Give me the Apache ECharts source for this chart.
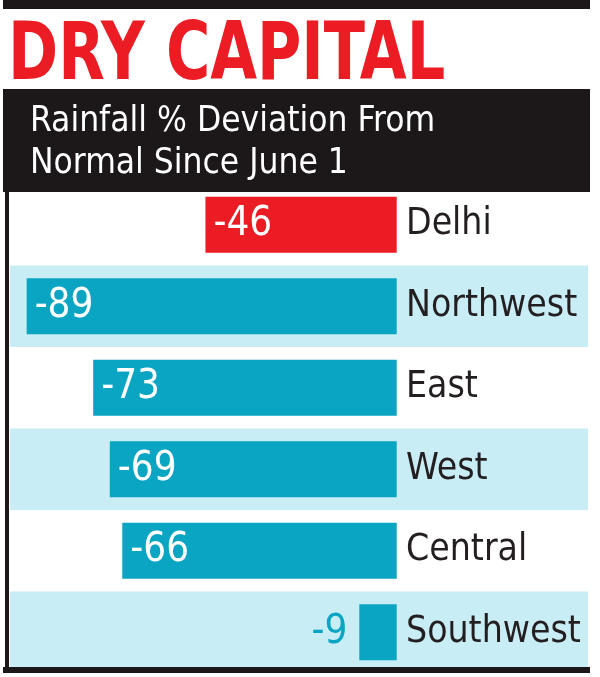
<!DOCTYPE html>
<html>
<head>
<meta charset="utf-8">
<script src="https://cdn.jsdelivr.net/npm/echarts@6/dist/echarts.min.js"></script>
<style>
  html, body { margin: 0; padding: 0; background: #fff; }
  #dryCapitalChart { width: 600px; height: 677px; }
</style>
</head>
<body>
<div id="dryCapitalChart"></div>
<script>
  const regions = ['Delhi', 'Northwest', 'East', 'West', 'Central', 'Southwest'];
  const deviation = [-46, -89, -73, -69, -66, -9];
  const titleText = 'DRY CAPITAL';
  const subtitleLines = ['Rainfall % Deviation From', 'Normal Since June 1'];

  const narrow = '"Liberation Sans Narrow", "DejaVu Sans Condensed", sans-serif';
  const colors = { red: '#ec1c24', teal: '#0aa5c3', band: '#c9edf5', ink: '#1c1719' };

  function initChart() {
    const dom = document.getElementById('dryCapitalChart');
    const myChart = echarts.init(dom);

    const barData = deviation.map((v, i) => {
      const item = { value: v };
      if (i === 0) item.itemStyle = { color: colors.red };
      // short bars get their number outside, in the bar colour
      if (v > -20) {
        item.label = { position: 'left', color: colors.teal, distance: 12 };
      }
      return item;
    });

    const options = {
      animation: false,
      grid: { left: 10, right: 12, top: 184, bottom: 4 },
      xAxis: {
        type: 'value',
        min: -93,
        max: 46,
        axisLine: { show: false },
        axisTick: { show: false },
        axisLabel: { show: false },
        splitLine: { show: false },
      },
      yAxis: {
        type: 'category',
        inverse: true,
        data: regions,
        // pull the axis in to the bars' zero so the names sit just right of it
        offset: -387,
        axisLine: { show: false },
        axisTick: { show: false },
        axisLabel: {
          inside: true,
          margin: 9,
          color: '#231f20',
          fontSize: 37,
          fontFamily: narrow,
        },
        splitLine: { show: false },
        splitArea: {
          show: true,
          interval: 0,
          areaStyle: { color: ['rgba(0,0,0,0)', colors.band] },
        },
      },
      series: [
        {
          type: 'bar',
          data: barData,
          barWidth: 56,
          itemStyle: { color: colors.teal },
          label: {
            show: true,
            position: 'insideLeft',
            distance: 8,
            color: '#fff',
            fontSize: 40,
            fontFamily: narrow,
          },
        },
      ],
      graphic: [
        { type: 'rect', z: 100, shape: { x: 3, y: 0, width: 587, height: 9 }, style: { fill: colors.ink } },
        {
          type: 'text',
          z: 100,
          x: 8,
          y: 18,
          scaleX: 0.84,
          style: {
            text: titleText,
            fill: colors.red,
            fontSize: 80,
            fontWeight: 'bold',
            fontFamily: narrow,
          },
        },
        { type: 'rect', z: 100, shape: { x: 3, y: 89, width: 587, height: 103 }, style: { fill: colors.ink } },
        {
          type: 'text',
          z: 101,
          x: 30,
          y: 101,
          style: {
            text: subtitleLines.join('\n'),
            fill: '#fff',
            fontSize: 35,
            lineHeight: 42,
            fontFamily: narrow,
          },
        },
        // frame: left rule and heavy bottom rule, drawn over the row bands
        { type: 'rect', z: 100, shape: { x: 5, y: 192, width: 4, height: 480 }, style: { fill: colors.ink } },
        { type: 'rect', z: 100, shape: { x: 3, y: 667, width: 587, height: 6 }, style: { fill: colors.ink } },
      ],
    };
    myChart.setOption(options);
  }

  initChart();
</script>
</body>
</html>
